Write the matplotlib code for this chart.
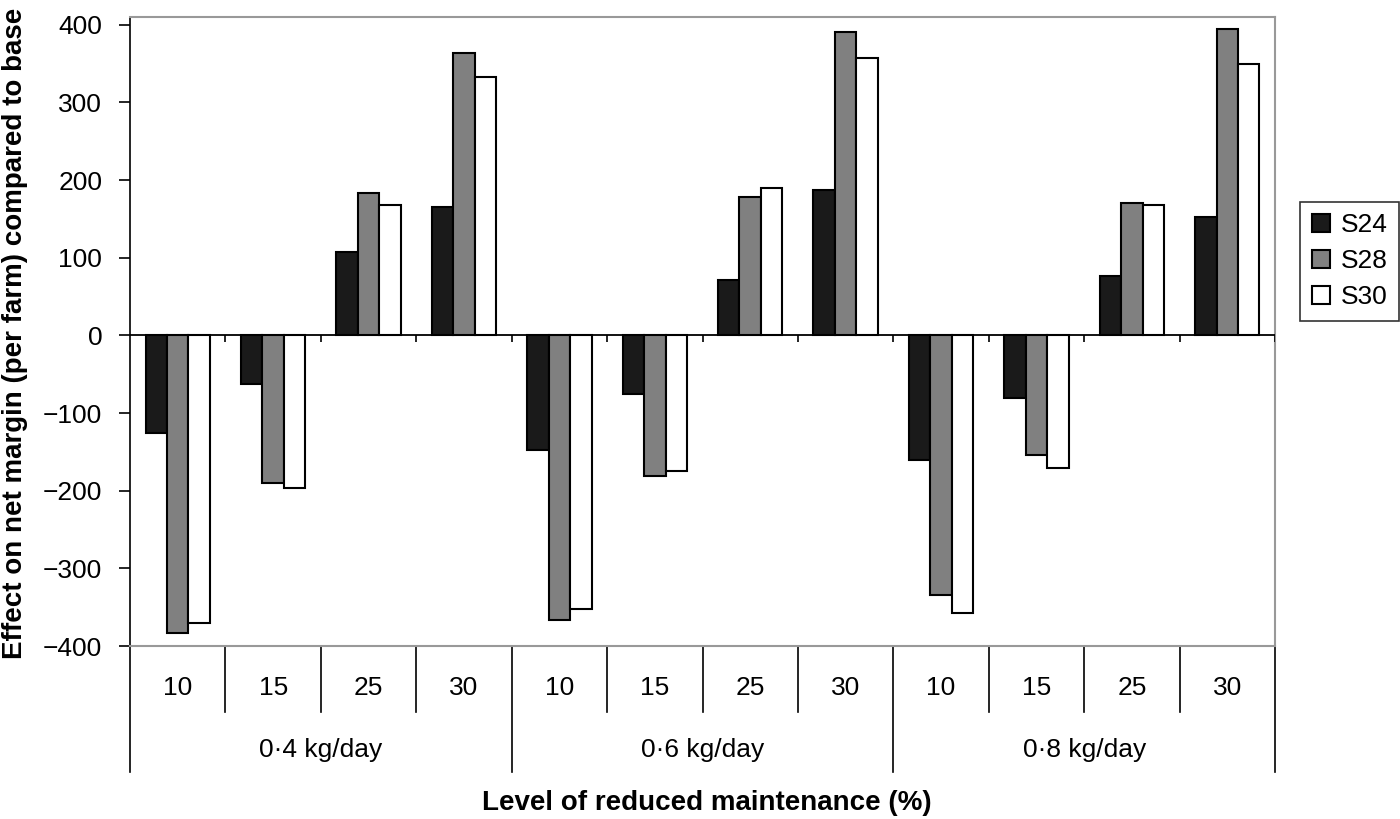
import numpy as np
import matplotlib
matplotlib.use("Agg")
import matplotlib.pyplot as plt

groups = ["0\u00b74 kg/day", "0\u00b76 kg/day", "0\u00b78 kg/day"]
levels = ["10", "15", "25", "30"]
series = ["S24", "S28", "S30"]

s24 = [-126, -62, 108, 166, -148, -75, 71, 187, -160, -80, 77, 153]
s28 = [-383, -190, 184, 364, -367, -181, 178, 391, -334, -154, 171, 394]
s30 = [-370, -196, 168, 333, -352, -175, 190, 357, -358, -171, 168, 349]

colors = ["#1a1a1a", "#808080", "#ffffff"]

plt.rcParams['font.family'] = ['Liberation Sans', 'DejaVu Sans']

fig = plt.figure(figsize=(14, 8.19), dpi=100)
ax = fig.add_axes([0.0929, 0.2112, 0.8178, 0.768])

x = np.arange(len(levels) * len(groups))
w = 0.225
for i, (vals, c, name) in enumerate(zip([s24, s28, s30], colors, series)):
    ax.bar(x + (i - 1) * w, vals, w, color=c, edgecolor='black', linewidth=1.5, label=name, zorder=3)

ax.set_xlim(-0.5, len(x) - 0.5)
ax.set_ylim(-400, 410)
ax.set_yticks(range(-400, 401, 100))
ax.set_yticklabels([str(v).replace('-', '\u2212') for v in range(-400, 401, 100)], fontsize=19)
ax.tick_params(axis='y', direction='out', length=8, width=1.2, pad=12)
ax.set_xticks([])

ax.axhline(0, color='black', lw=1.3, zorder=4)
bounds = np.arange(0.5, len(x) + 0.5, 1)
ax.vlines(bounds, -8, 0, color='black', lw=1.2, zorder=4)

ax.spines['left'].set_color('black')
ax.spines['left'].set_linewidth(1.2)
for s in ['top', 'right', 'bottom']:
    ax.spines[s].set_color('#999999')
    ax.spines[s].set_linewidth(1.5)

# category table under the axis
tr = ax.get_xaxis_transform()
for b in np.arange(-0.5, len(x) + 0.5, 1):
    k = int(round(b + 0.5))
    depth = -0.200 if k % 4 == 0 else -0.105
    ax.plot([b, b], [0, depth], transform=tr, color='black', lw=1.2, clip_on=False)
for xi in x:
    ax.text(xi, -0.067, levels[xi % 4], transform=tr, ha='center', va='center', fontsize=19)
for gi, g in enumerate(groups):
    ax.text(gi * 4 + 1.5, -0.165, g, transform=tr, ha='center', va='center', fontsize=19)

fig.text(0.505, 0.02, "Level of reduced maintenance (%)", ha='center', va='center',
         fontsize=20, fontweight='bold')
fig.text(0.011, 0.593, "Effect on net margin (per farm) compared to base", rotation=90,
         ha='center', va='center', fontsize=20, fontweight='bold')

leg = fig.legend(loc='center', bbox_to_anchor=(0.964, 0.681), fontsize=19, frameon=True,
                 fancybox=False, handlelength=0.7, handleheight=0.7, handletextpad=0.4,
                 borderpad=0.45, labelspacing=0.45, borderaxespad=0)
leg.get_frame().set_edgecolor('black')
leg.get_frame().set_linewidth(1.2)

fig.savefig("out.png", dpi=100)
